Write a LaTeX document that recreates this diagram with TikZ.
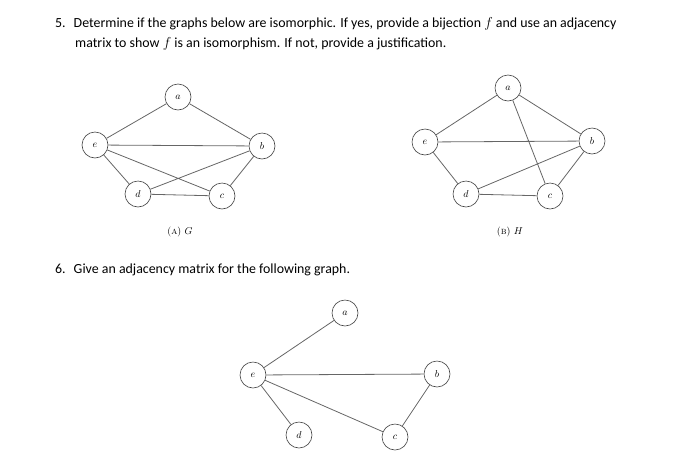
\documentclass[tikz,border=0pt]{standalone}
\usepackage{fontspec}
\newfontfamily\qfont{Carlito}
\begin{document}
\begin{tikzpicture}[x=1pt,y=-1pt,
  vtx/.style={circle,draw=black!75,line width=0.6pt,minimum size=26pt,inner sep=0pt,font=\normalsize},
  edg/.style={draw=black!60,line width=0.8pt},
  txt/.style={anchor=west,inner sep=0pt,font=\qfont\fontsize{13.9}{16}\selectfont}]
\useasboundingbox (0,0) rectangle (700,469);
\node[txt] (q5a) at (55,24) {5.\hspace{8pt}Determine if the graphs below are isomorphic. If yes, provide a bijection $f$ and use an adjacency};
\node[txt] (q5b) at (75,44) {matrix to show $f$ is an isomorphism. If not, provide a justification.};
\node[txt] (q6) at (55,270) {6.\hspace{8pt}Give an adjacency matrix for the following graph.};
% G
\node[vtx] (ga) at (178,97) {$a$};
\node[vtx] (gb) at (262,146) {$b$};
\node[vtx] (gc) at (222,196) {$c$};
\node[vtx] (gd) at (138,194) {$d$};
\node[vtx] (ge) at (95,145) {$e$};
\draw[edg] (ge)--(ga) (ga)--(gb) (ge)--(gb) (ge)--(gd) (ge)--(gc) (gd)--(gb) (gd)--(gc) (gc)--(gb);
\node[font=\normalsize] (capg) at (180,232) {(\textsc{a}) $G$};
% H
\node[vtx] (ha) at (508,88) {$a$};
\node[vtx] (hb) at (592,141) {$b$};
\node[vtx] (hc) at (550,196) {$c$};
\node[vtx] (hd) at (466,194) {$d$};
\node[vtx] (he) at (425,142) {$e$};
\draw[edg] (he)--(ha) (ha)--(hb) (ha)--(hc) (he)--(hb) (he)--(hd) (hd)--(hb) (hd)--(hc) (hc)--(hb);
\node[font=\normalsize] (caph) at (510,232) {(\textsc{b}) $H$};
% third
\node[vtx] (ka) at (345,313) {$a$};
\node[vtx] (kb) at (437,374) {$b$};
\node[vtx] (kc) at (395,437) {$c$};
\node[vtx] (kd) at (299,435) {$d$};
\node[vtx] (ke) at (253,375) {$e$};
\draw[edg] (ke)--(ka) (ke)--(kb) (ke)--(kd) (ke)--(kc) (kc)--(kb);
\end{tikzpicture}
\end{document}
